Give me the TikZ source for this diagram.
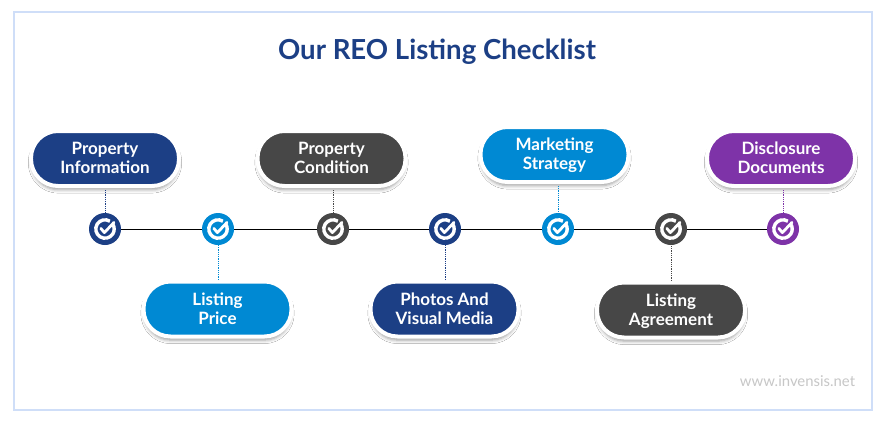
\documentclass[tikz,border=0pt]{standalone}
\usepackage{fontspec}
\setmainfont{Lato}
\usetikzlibrary{shadows.blur}
\definecolor{navy}{HTML}{1C3F85}
\definecolor{sky}{HTML}{0089D3}
\definecolor{slate}{HTML}{474747}
\definecolor{plum}{HTML}{7E33A8}
\definecolor{frame}{HTML}{CFDEF8}
\newcommand{\pl}{\vrule width 0pt height 17bp depth 6bp\relax}
\newcommand{\pillfont}{\fontsize{17bp}{19bp}\selectfont\bfseries\lineskiplimit=-20bp\relax}
\tikzset{
  x=1bp,y=-1bp,
  pill/.style={rounded corners=27bp,minimum width=148bp,minimum height=55bp,draw=white,line width=4bp,
    text=white,font=\pillfont,align=center,inner sep=0pt,
    fill=#1,blur shadow={shadow xshift=0bp,shadow yshift=-4bp,shadow blur radius=3.5bp,shadow opacity=40,shadow scale=0.99}},
  hub/.style={circle,fill=#1,minimum size=32bp,inner sep=0pt},
  link/.style={densely dotted,line width=0.8bp,draw=#1},
  rail/.style={black,line width=1bp},
  pics/tick/.style={code={
    \draw[white,line width=3.4bp] (58:9.2bp) arc[start angle=58,end angle=392,radius=9.2bp];
    \draw[white,line width=2.8bp,line cap=round,line join=round] (-4.2bp,0.6bp) -- (-0.6bp,-3.6bp) -- (9bp,6.6bp);
  }},
}
\begin{document}
\begin{tikzpicture}
\useasboundingbox (0,0) rectangle (885,421);
\fill[white] (0,0) rectangle (885,421);
\node[draw=frame,line width=1.8bp,minimum width=858bp,minimum height=398bp,inner sep=0pt] (frm) at (443,211) {};
\node[text=navy,font=\fontsize{27.6bp}{30bp}\selectfont\bfseries] (title) at (437,52) {Our REO Listing Checklist};
\node[text=black!22,font=\fontsize{14.9bp}{16bp}\selectfont] (web) at (797.5,381) {www.invensis.net};

\node[pill=navy]  (p1) at (105,158.5) {\pl Property\\\pl Information};
\node[pill=sky]   (p2) at (217.5,309) {\pl Listing\\\pl Price};
\node[pill=slate] (p3) at (331.5,158.5) {\pl Property\\\pl Condition};
\node[pill=navy]  (p4) at (444.5,309) {\pl Photos And\\\pl Visual Media};
\node[pill=sky]   (p5) at (554.5,154.5) {\pl Marketing\\\pl Strategy};
\node[pill=slate] (p6) at (671,310) {\pl Listing\\\pl Agreement};
\node[pill=plum]  (p7) at (781,158.5) {\pl Disclosure\\\pl Documents};

\node[hub=navy]  (h1) at (105,229) {};
\node[hub=sky]   (h2) at (218,229) {};
\node[hub=slate] (h3) at (333,229) {};
\node[hub=navy]  (h4) at (445,229) {};
\node[hub=sky]   (h5) at (558,229) {};
\node[hub=slate] (h6) at (671,229) {};
\node[hub=plum]  (h7) at (783,229) {};

\draw[rail] (h1) -- (h2);
\draw[rail] (h2) -- (h3);
\draw[rail] (h3) -- (h4);
\draw[rail] (h4) -- (h5);
\draw[rail] (h5) -- (h6);
\draw[rail] (h6) -- (h7);

\coordinate (c1) at (105,190); \coordinate (c2) at (218,280);
\coordinate (c3) at (333,190); \coordinate (c4) at (445,280);
\coordinate (c5) at (558,186); \coordinate (c6) at (671,281);
\coordinate (c7) at (783,190);
\draw[link=navy]  (c1) -- (h1);
\draw[link=sky]   (c2) -- (h2);
\draw[link=slate] (c3) -- (h3);
\draw[link=navy]  (c4) -- (h4);
\draw[link=sky]   (c5) -- (h5);
\draw[link=slate] (c6) -- (h6);
\draw[link=plum]  (c7) -- (h7);

\pic at (h1) {tick=navy};
\pic at (h2) {tick=sky};
\pic at (h3) {tick=slate};
\pic at (h4) {tick=navy};
\pic at (h5) {tick=sky};
\pic at (h6) {tick=slate};
\pic at (h7) {tick=plum};
\end{tikzpicture}
\end{document}
